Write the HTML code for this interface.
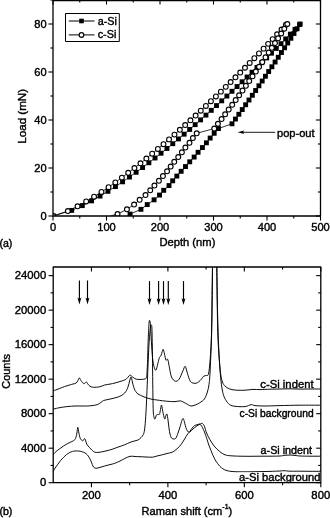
<!DOCTYPE html>
<html><head><meta charset="utf-8"><title>Figure</title>
<style>html,body{margin:0;padding:0;background:#fff;width:330px;height:518px;overflow:hidden}svg{display:block}svg text{fill:#000;stroke:#000;stroke-width:.4px}</style>
</head><body>
<svg width="330" height="518" viewBox="0 0 330 518" font-family='"Liberation Sans", sans-serif' stroke-linejoin="round"><defs><clipPath id="clipA"><rect x="53" y="0" width="267.5" height="216"/></clipPath><clipPath id="clipB"><rect x="53.2" y="267" width="267.6" height="215.7"/></clipPath></defs><rect width="330" height="518" fill="#fff"/><g clip-path="url(#clipA)">
<polyline fill="none" stroke="#000" stroke-width="0.8" points="53,216 67.85,211.03 77.59,206.26 86.17,201.48 94.07,196.7 101.48,191.93 108.54,187.15 115.32,182.38 121.87,177.6 128.22,172.82 134.41,168.05 140.45,163.27 146.37,158.5 152.17,153.72 157.88,148.94 163.49,144.17 169.02,139.39 174.47,134.62 179.85,129.84 185.17,125.06 190.42,120.29 195.62,115.51 200.77,110.74 205.86,105.96 210.9,101.18 215.9,96.41 220.85,91.63 225.76,86.86 230.62,82.08 235.45,77.3 240.23,72.53 244.97,67.75 249.68,62.98 254.34,58.2 258.97,53.42 263.56,48.65 268.11,43.87 272.63,39.1 277.1,34.32 281.54,29.54 285.94,24.77"/>
<polyline fill="none" stroke="#000" stroke-width="0.8" points="53,216 71.73,210.4 82.3,205.63 91.56,200.87 100.03,196.1 107.93,191.34 115.42,186.58 122.58,181.81 129.46,177.05 136.11,172.28 142.58,167.52 148.87,162.76 155.03,157.99 161.05,153.23 166.96,148.46 172.77,143.7 178.48,138.94 184.12,134.17 189.67,129.41 195.16,124.64 200.58,119.88 205.95,115.12 211.25,110.35 216.51,105.59 221.72,100.82 226.88,96.06 231.99,91.3 237.06,86.53 242.1,81.77 247.09,77 252.04,72.24 256.96,67.48 261.84,62.71 266.68,57.95 271.49,53.18 276.26,48.42 281,43.66 285.7,38.89 290.37,34.13 295,29.36 299.6,24.6"/>
<polyline fill="none" stroke="#000" stroke-width="0.8" points="287.33,24 284.27,28.75 281.2,33.5 278.1,38.26 274.99,43.01 271.85,47.76 268.69,52.51 265.51,57.26 262.3,62.02 259.07,66.77 255.82,71.52 252.53,76.27 249.22,81.02 245.88,85.78 242.51,90.53 239.11,95.28 235.68,100.03 232.21,104.78 228.7,109.54 225.15,114.29 221.57,119.04 217.93,123.79 214.26,128.54 196.72,133.3 192.89,138.05 189.47,142.8 185.39,147.55 181.87,152.3 178.25,157.06 174.27,161.81 170.68,166.56 167.07,171.31 162.95,176.06 158.9,180.82 154.43,185.57 150.25,190.32 145.51,195.07 139.63,199.82 134.09,204.58 126.94,209.33 117.54,214.08 111,215.8"/>
<polyline fill="none" stroke="#000" stroke-width="0.8" points="300.17,24 297.08,28.75 293.98,33.5 290.87,38.26 287.74,43.01 284.6,47.76 281.44,52.51 278.27,57.26 275.09,62.02 271.89,66.77 268.67,71.52 265.44,76.27 262.19,81.02 258.92,85.78 255.63,90.53 252.32,95.28 248.99,100.03 245.64,104.78 242.26,109.54 238.86,114.29 235.44,119.04 231.99,123.79 218.46,128.54 214.18,133.3 210.16,138.05 206.4,142.8 202.42,147.55 198.09,152.3 194.15,157.06 189.73,161.81 185.48,166.56 181.15,171.31 176.83,176.06 172.67,180.82 169.02,185.57 163.72,190.32 159.52,195.07 154.07,199.82 147.24,204.58 140.94,209.33 130.05,214.08"/>
<g fill="#000">
<rect x="50.86" y="213.55" width="4.9" height="4.9"/>
<rect x="69.28" y="207.95" width="4.9" height="4.9"/>
<rect x="79.85" y="203.18" width="4.9" height="4.9"/>
<rect x="89.11" y="198.42" width="4.9" height="4.9"/>
<rect x="97.58" y="193.65" width="4.9" height="4.9"/>
<rect x="105.48" y="188.89" width="4.9" height="4.9"/>
<rect x="112.97" y="184.13" width="4.9" height="4.9"/>
<rect x="120.13" y="179.36" width="4.9" height="4.9"/>
<rect x="127.01" y="174.6" width="4.9" height="4.9"/>
<rect x="133.66" y="169.83" width="4.9" height="4.9"/>
<rect x="140.13" y="165.07" width="4.9" height="4.9"/>
<rect x="146.42" y="160.31" width="4.9" height="4.9"/>
<rect x="152.58" y="155.54" width="4.9" height="4.9"/>
<rect x="158.6" y="150.78" width="4.9" height="4.9"/>
<rect x="164.51" y="146.01" width="4.9" height="4.9"/>
<rect x="170.32" y="141.25" width="4.9" height="4.9"/>
<rect x="176.03" y="136.49" width="4.9" height="4.9"/>
<rect x="181.67" y="131.72" width="4.9" height="4.9"/>
<rect x="187.22" y="126.96" width="4.9" height="4.9"/>
<rect x="192.71" y="122.19" width="4.9" height="4.9"/>
<rect x="198.13" y="117.43" width="4.9" height="4.9"/>
<rect x="203.5" y="112.67" width="4.9" height="4.9"/>
<rect x="208.8" y="107.9" width="4.9" height="4.9"/>
<rect x="214.06" y="103.14" width="4.9" height="4.9"/>
<rect x="219.27" y="98.37" width="4.9" height="4.9"/>
<rect x="224.43" y="93.61" width="4.9" height="4.9"/>
<rect x="229.54" y="88.85" width="4.9" height="4.9"/>
<rect x="234.61" y="84.08" width="4.9" height="4.9"/>
<rect x="239.65" y="79.32" width="4.9" height="4.9"/>
<rect x="244.64" y="74.55" width="4.9" height="4.9"/>
<rect x="249.59" y="69.79" width="4.9" height="4.9"/>
<rect x="254.51" y="65.03" width="4.9" height="4.9"/>
<rect x="259.39" y="60.26" width="4.9" height="4.9"/>
<rect x="264.23" y="55.5" width="4.9" height="4.9"/>
<rect x="269.04" y="50.73" width="4.9" height="4.9"/>
<rect x="273.81" y="45.97" width="4.9" height="4.9"/>
<rect x="278.55" y="41.21" width="4.9" height="4.9"/>
<rect x="283.25" y="36.44" width="4.9" height="4.9"/>
<rect x="287.92" y="31.68" width="4.9" height="4.9"/>
<rect x="292.55" y="26.91" width="4.9" height="4.9"/>
<rect x="297.15" y="22.15" width="4.9" height="4.9"/>
<rect x="297.72" y="21.55" width="4.9" height="4.9"/>
<rect x="294.63" y="26.3" width="4.9" height="4.9"/>
<rect x="291.53" y="31.05" width="4.9" height="4.9"/>
<rect x="288.42" y="35.81" width="4.9" height="4.9"/>
<rect x="285.29" y="40.56" width="4.9" height="4.9"/>
<rect x="282.15" y="45.31" width="4.9" height="4.9"/>
<rect x="278.99" y="50.06" width="4.9" height="4.9"/>
<rect x="275.82" y="54.81" width="4.9" height="4.9"/>
<rect x="272.64" y="59.57" width="4.9" height="4.9"/>
<rect x="269.44" y="64.32" width="4.9" height="4.9"/>
<rect x="266.22" y="69.07" width="4.9" height="4.9"/>
<rect x="262.99" y="73.82" width="4.9" height="4.9"/>
<rect x="259.74" y="78.57" width="4.9" height="4.9"/>
<rect x="256.47" y="83.33" width="4.9" height="4.9"/>
<rect x="253.18" y="88.08" width="4.9" height="4.9"/>
<rect x="249.87" y="92.83" width="4.9" height="4.9"/>
<rect x="246.54" y="97.58" width="4.9" height="4.9"/>
<rect x="243.19" y="102.33" width="4.9" height="4.9"/>
<rect x="239.81" y="107.09" width="4.9" height="4.9"/>
<rect x="236.41" y="111.84" width="4.9" height="4.9"/>
<rect x="232.99" y="116.59" width="4.9" height="4.9"/>
<rect x="229.54" y="121.34" width="4.9" height="4.9"/>
<rect x="216.01" y="126.09" width="4.9" height="4.9"/>
<rect x="211.73" y="130.85" width="4.9" height="4.9"/>
<rect x="207.71" y="135.6" width="4.9" height="4.9"/>
<rect x="203.95" y="140.35" width="4.9" height="4.9"/>
<rect x="199.97" y="145.1" width="4.9" height="4.9"/>
<rect x="195.64" y="149.85" width="4.9" height="4.9"/>
<rect x="191.7" y="154.61" width="4.9" height="4.9"/>
<rect x="187.28" y="159.36" width="4.9" height="4.9"/>
<rect x="183.03" y="164.11" width="4.9" height="4.9"/>
<rect x="178.7" y="168.86" width="4.9" height="4.9"/>
<rect x="174.38" y="173.61" width="4.9" height="4.9"/>
<rect x="170.22" y="178.37" width="4.9" height="4.9"/>
<rect x="166.57" y="183.12" width="4.9" height="4.9"/>
<rect x="161.27" y="187.87" width="4.9" height="4.9"/>
<rect x="157.07" y="192.62" width="4.9" height="4.9"/>
<rect x="151.62" y="197.37" width="4.9" height="4.9"/>
<rect x="144.79" y="202.13" width="4.9" height="4.9"/>
<rect x="138.49" y="206.88" width="4.9" height="4.9"/>
<rect x="127.6" y="211.63" width="4.9" height="4.9"/>
</g>
<circle cx="53.22" cy="216" r="2.42" fill="#fff" stroke="#000" stroke-width="1.1"/>
<circle cx="67.85" cy="211.03" r="2.42" fill="#fff" stroke="#000" stroke-width="1.1"/>
<circle cx="77.59" cy="206.26" r="2.42" fill="#fff" stroke="#000" stroke-width="1.1"/>
<circle cx="86.17" cy="201.48" r="2.42" fill="#fff" stroke="#000" stroke-width="1.1"/>
<circle cx="94.07" cy="196.7" r="2.42" fill="#fff" stroke="#000" stroke-width="1.1"/>
<circle cx="101.48" cy="191.93" r="2.42" fill="#fff" stroke="#000" stroke-width="1.1"/>
<circle cx="108.54" cy="187.15" r="2.42" fill="#fff" stroke="#000" stroke-width="1.1"/>
<circle cx="115.32" cy="182.38" r="2.42" fill="#fff" stroke="#000" stroke-width="1.1"/>
<circle cx="121.87" cy="177.6" r="2.42" fill="#fff" stroke="#000" stroke-width="1.1"/>
<circle cx="128.22" cy="172.82" r="2.42" fill="#fff" stroke="#000" stroke-width="1.1"/>
<circle cx="134.41" cy="168.05" r="2.42" fill="#fff" stroke="#000" stroke-width="1.1"/>
<circle cx="140.45" cy="163.27" r="2.42" fill="#fff" stroke="#000" stroke-width="1.1"/>
<circle cx="146.37" cy="158.5" r="2.42" fill="#fff" stroke="#000" stroke-width="1.1"/>
<circle cx="152.17" cy="153.72" r="2.42" fill="#fff" stroke="#000" stroke-width="1.1"/>
<circle cx="157.88" cy="148.94" r="2.42" fill="#fff" stroke="#000" stroke-width="1.1"/>
<circle cx="163.49" cy="144.17" r="2.42" fill="#fff" stroke="#000" stroke-width="1.1"/>
<circle cx="169.02" cy="139.39" r="2.42" fill="#fff" stroke="#000" stroke-width="1.1"/>
<circle cx="174.47" cy="134.62" r="2.42" fill="#fff" stroke="#000" stroke-width="1.1"/>
<circle cx="179.85" cy="129.84" r="2.42" fill="#fff" stroke="#000" stroke-width="1.1"/>
<circle cx="185.17" cy="125.06" r="2.42" fill="#fff" stroke="#000" stroke-width="1.1"/>
<circle cx="190.42" cy="120.29" r="2.42" fill="#fff" stroke="#000" stroke-width="1.1"/>
<circle cx="195.62" cy="115.51" r="2.42" fill="#fff" stroke="#000" stroke-width="1.1"/>
<circle cx="200.77" cy="110.74" r="2.42" fill="#fff" stroke="#000" stroke-width="1.1"/>
<circle cx="205.86" cy="105.96" r="2.42" fill="#fff" stroke="#000" stroke-width="1.1"/>
<circle cx="210.9" cy="101.18" r="2.42" fill="#fff" stroke="#000" stroke-width="1.1"/>
<circle cx="215.9" cy="96.41" r="2.42" fill="#fff" stroke="#000" stroke-width="1.1"/>
<circle cx="220.85" cy="91.63" r="2.42" fill="#fff" stroke="#000" stroke-width="1.1"/>
<circle cx="225.76" cy="86.86" r="2.42" fill="#fff" stroke="#000" stroke-width="1.1"/>
<circle cx="230.62" cy="82.08" r="2.42" fill="#fff" stroke="#000" stroke-width="1.1"/>
<circle cx="235.45" cy="77.3" r="2.42" fill="#fff" stroke="#000" stroke-width="1.1"/>
<circle cx="240.23" cy="72.53" r="2.42" fill="#fff" stroke="#000" stroke-width="1.1"/>
<circle cx="244.97" cy="67.75" r="2.42" fill="#fff" stroke="#000" stroke-width="1.1"/>
<circle cx="249.68" cy="62.98" r="2.42" fill="#fff" stroke="#000" stroke-width="1.1"/>
<circle cx="254.34" cy="58.2" r="2.42" fill="#fff" stroke="#000" stroke-width="1.1"/>
<circle cx="258.97" cy="53.42" r="2.42" fill="#fff" stroke="#000" stroke-width="1.1"/>
<circle cx="263.56" cy="48.65" r="2.42" fill="#fff" stroke="#000" stroke-width="1.1"/>
<circle cx="268.11" cy="43.87" r="2.42" fill="#fff" stroke="#000" stroke-width="1.1"/>
<circle cx="272.63" cy="39.1" r="2.42" fill="#fff" stroke="#000" stroke-width="1.1"/>
<circle cx="277.1" cy="34.32" r="2.42" fill="#fff" stroke="#000" stroke-width="1.1"/>
<circle cx="281.54" cy="29.54" r="2.42" fill="#fff" stroke="#000" stroke-width="1.1"/>
<circle cx="285.94" cy="24.77" r="2.42" fill="#fff" stroke="#000" stroke-width="1.1"/>
<circle cx="287.33" cy="24" r="2.42" fill="#fff" stroke="#000" stroke-width="1.1"/>
<circle cx="284.27" cy="28.75" r="2.42" fill="#fff" stroke="#000" stroke-width="1.1"/>
<circle cx="281.2" cy="33.5" r="2.42" fill="#fff" stroke="#000" stroke-width="1.1"/>
<circle cx="278.1" cy="38.26" r="2.42" fill="#fff" stroke="#000" stroke-width="1.1"/>
<circle cx="274.99" cy="43.01" r="2.42" fill="#fff" stroke="#000" stroke-width="1.1"/>
<circle cx="271.85" cy="47.76" r="2.42" fill="#fff" stroke="#000" stroke-width="1.1"/>
<circle cx="268.69" cy="52.51" r="2.42" fill="#fff" stroke="#000" stroke-width="1.1"/>
<circle cx="265.51" cy="57.26" r="2.42" fill="#fff" stroke="#000" stroke-width="1.1"/>
<circle cx="262.3" cy="62.02" r="2.42" fill="#fff" stroke="#000" stroke-width="1.1"/>
<circle cx="259.07" cy="66.77" r="2.42" fill="#fff" stroke="#000" stroke-width="1.1"/>
<circle cx="255.82" cy="71.52" r="2.42" fill="#fff" stroke="#000" stroke-width="1.1"/>
<circle cx="252.53" cy="76.27" r="2.42" fill="#fff" stroke="#000" stroke-width="1.1"/>
<circle cx="249.22" cy="81.02" r="2.42" fill="#fff" stroke="#000" stroke-width="1.1"/>
<circle cx="245.88" cy="85.78" r="2.42" fill="#fff" stroke="#000" stroke-width="1.1"/>
<circle cx="242.51" cy="90.53" r="2.42" fill="#fff" stroke="#000" stroke-width="1.1"/>
<circle cx="239.11" cy="95.28" r="2.42" fill="#fff" stroke="#000" stroke-width="1.1"/>
<circle cx="235.68" cy="100.03" r="2.42" fill="#fff" stroke="#000" stroke-width="1.1"/>
<circle cx="232.21" cy="104.78" r="2.42" fill="#fff" stroke="#000" stroke-width="1.1"/>
<circle cx="228.7" cy="109.54" r="2.42" fill="#fff" stroke="#000" stroke-width="1.1"/>
<circle cx="225.15" cy="114.29" r="2.42" fill="#fff" stroke="#000" stroke-width="1.1"/>
<circle cx="221.57" cy="119.04" r="2.42" fill="#fff" stroke="#000" stroke-width="1.1"/>
<circle cx="217.93" cy="123.79" r="2.42" fill="#fff" stroke="#000" stroke-width="1.1"/>
<circle cx="214.26" cy="128.54" r="2.42" fill="#fff" stroke="#000" stroke-width="1.1"/>
<circle cx="196.72" cy="133.3" r="2.42" fill="#fff" stroke="#000" stroke-width="1.1"/>
<circle cx="192.89" cy="138.05" r="2.42" fill="#fff" stroke="#000" stroke-width="1.1"/>
<circle cx="189.47" cy="142.8" r="2.42" fill="#fff" stroke="#000" stroke-width="1.1"/>
<circle cx="185.39" cy="147.55" r="2.42" fill="#fff" stroke="#000" stroke-width="1.1"/>
<circle cx="181.87" cy="152.3" r="2.42" fill="#fff" stroke="#000" stroke-width="1.1"/>
<circle cx="178.25" cy="157.06" r="2.42" fill="#fff" stroke="#000" stroke-width="1.1"/>
<circle cx="174.27" cy="161.81" r="2.42" fill="#fff" stroke="#000" stroke-width="1.1"/>
<circle cx="170.68" cy="166.56" r="2.42" fill="#fff" stroke="#000" stroke-width="1.1"/>
<circle cx="167.07" cy="171.31" r="2.42" fill="#fff" stroke="#000" stroke-width="1.1"/>
<circle cx="162.95" cy="176.06" r="2.42" fill="#fff" stroke="#000" stroke-width="1.1"/>
<circle cx="158.9" cy="180.82" r="2.42" fill="#fff" stroke="#000" stroke-width="1.1"/>
<circle cx="154.43" cy="185.57" r="2.42" fill="#fff" stroke="#000" stroke-width="1.1"/>
<circle cx="150.25" cy="190.32" r="2.42" fill="#fff" stroke="#000" stroke-width="1.1"/>
<circle cx="145.51" cy="195.07" r="2.42" fill="#fff" stroke="#000" stroke-width="1.1"/>
<circle cx="139.63" cy="199.82" r="2.42" fill="#fff" stroke="#000" stroke-width="1.1"/>
<circle cx="134.09" cy="204.58" r="2.42" fill="#fff" stroke="#000" stroke-width="1.1"/>
<circle cx="126.94" cy="209.33" r="2.42" fill="#fff" stroke="#000" stroke-width="1.1"/>
<circle cx="117.54" cy="214.08" r="2.42" fill="#fff" stroke="#000" stroke-width="1.1"/>
</g>
<rect x="53" y="0.6" width="267.5" height="215.4" fill="none" stroke="#000" stroke-width="1.3"/>
<line x1="53" y1="216" x2="53" y2="220.6" stroke="#000" stroke-width="1.1"/>
<line x1="53" y1="0" x2="53" y2="4.6" stroke="#000" stroke-width="1.1"/>
<text x="53" y="231.3" font-size="11.1" text-anchor="middle">0</text>
<line x1="79.75" y1="216" x2="79.75" y2="218.6" stroke="#000" stroke-width="1.1"/>
<line x1="79.75" y1="0" x2="79.75" y2="2.6" stroke="#000" stroke-width="1.1"/>
<line x1="106.5" y1="216" x2="106.5" y2="220.6" stroke="#000" stroke-width="1.1"/>
<line x1="106.5" y1="0" x2="106.5" y2="4.6" stroke="#000" stroke-width="1.1"/>
<text x="106.5" y="231.3" font-size="11.1" text-anchor="middle">100</text>
<line x1="133.25" y1="216" x2="133.25" y2="218.6" stroke="#000" stroke-width="1.1"/>
<line x1="133.25" y1="0" x2="133.25" y2="2.6" stroke="#000" stroke-width="1.1"/>
<line x1="160" y1="216" x2="160" y2="220.6" stroke="#000" stroke-width="1.1"/>
<line x1="160" y1="0" x2="160" y2="4.6" stroke="#000" stroke-width="1.1"/>
<text x="160" y="231.3" font-size="11.1" text-anchor="middle">200</text>
<line x1="186.75" y1="216" x2="186.75" y2="218.6" stroke="#000" stroke-width="1.1"/>
<line x1="186.75" y1="0" x2="186.75" y2="2.6" stroke="#000" stroke-width="1.1"/>
<line x1="213.5" y1="216" x2="213.5" y2="220.6" stroke="#000" stroke-width="1.1"/>
<line x1="213.5" y1="0" x2="213.5" y2="4.6" stroke="#000" stroke-width="1.1"/>
<text x="213.5" y="231.3" font-size="11.1" text-anchor="middle">300</text>
<line x1="240.25" y1="216" x2="240.25" y2="218.6" stroke="#000" stroke-width="1.1"/>
<line x1="240.25" y1="0" x2="240.25" y2="2.6" stroke="#000" stroke-width="1.1"/>
<line x1="267" y1="216" x2="267" y2="220.6" stroke="#000" stroke-width="1.1"/>
<line x1="267" y1="0" x2="267" y2="4.6" stroke="#000" stroke-width="1.1"/>
<text x="267" y="231.3" font-size="11.1" text-anchor="middle">400</text>
<line x1="293.75" y1="216" x2="293.75" y2="218.6" stroke="#000" stroke-width="1.1"/>
<line x1="293.75" y1="0" x2="293.75" y2="2.6" stroke="#000" stroke-width="1.1"/>
<line x1="320.5" y1="216" x2="320.5" y2="220.6" stroke="#000" stroke-width="1.1"/>
<line x1="320.5" y1="0" x2="320.5" y2="4.6" stroke="#000" stroke-width="1.1"/>
<text x="320.5" y="231.3" font-size="11.1" text-anchor="middle">500</text>
<line x1="48.4" y1="216" x2="53" y2="216" stroke="#000" stroke-width="1.1"/>
<line x1="315.9" y1="216" x2="320.5" y2="216" stroke="#000" stroke-width="1.1"/>
<text x="46.6" y="219.8" font-size="11.1" text-anchor="end">0</text>
<line x1="50.4" y1="192" x2="53" y2="192" stroke="#000" stroke-width="1.1"/>
<line x1="317.9" y1="192" x2="320.5" y2="192" stroke="#000" stroke-width="1.1"/>
<line x1="48.4" y1="168" x2="53" y2="168" stroke="#000" stroke-width="1.1"/>
<line x1="315.9" y1="168" x2="320.5" y2="168" stroke="#000" stroke-width="1.1"/>
<text x="46.6" y="171.8" font-size="11.1" text-anchor="end">20</text>
<line x1="50.4" y1="144" x2="53" y2="144" stroke="#000" stroke-width="1.1"/>
<line x1="317.9" y1="144" x2="320.5" y2="144" stroke="#000" stroke-width="1.1"/>
<line x1="48.4" y1="120" x2="53" y2="120" stroke="#000" stroke-width="1.1"/>
<line x1="315.9" y1="120" x2="320.5" y2="120" stroke="#000" stroke-width="1.1"/>
<text x="46.6" y="123.8" font-size="11.1" text-anchor="end">40</text>
<line x1="50.4" y1="96" x2="53" y2="96" stroke="#000" stroke-width="1.1"/>
<line x1="317.9" y1="96" x2="320.5" y2="96" stroke="#000" stroke-width="1.1"/>
<line x1="48.4" y1="72" x2="53" y2="72" stroke="#000" stroke-width="1.1"/>
<line x1="315.9" y1="72" x2="320.5" y2="72" stroke="#000" stroke-width="1.1"/>
<text x="46.6" y="75.8" font-size="11.1" text-anchor="end">60</text>
<line x1="50.4" y1="48" x2="53" y2="48" stroke="#000" stroke-width="1.1"/>
<line x1="317.9" y1="48" x2="320.5" y2="48" stroke="#000" stroke-width="1.1"/>
<line x1="48.4" y1="24" x2="53" y2="24" stroke="#000" stroke-width="1.1"/>
<line x1="315.9" y1="24" x2="320.5" y2="24" stroke="#000" stroke-width="1.1"/>
<text x="46.6" y="27.8" font-size="11.1" text-anchor="end">80</text>
<line x1="50.4" y1="0" x2="53" y2="0" stroke="#000" stroke-width="1.1"/>
<line x1="317.9" y1="0" x2="320.5" y2="0" stroke="#000" stroke-width="1.1"/>
<text x="187.4" y="246.3" font-size="11.2" text-anchor="middle">Depth (nm)</text>
<text transform="translate(26.0,116.3) rotate(-90)" font-size="11.6" text-anchor="middle">Load (mN)</text>
<text x="-0.6" y="247.2" font-size="10.6" text-anchor="start">(a)</text>
<rect x="65.5" y="13.5" width="53.8" height="28" fill="#fff" stroke="#000" stroke-width="1.0"/>
<line x1="68.8" y1="21" x2="94.5" y2="21" stroke="#000" stroke-width="1"/>
<line x1="68.8" y1="34.9" x2="94.5" y2="34.9" stroke="#000" stroke-width="1"/>
<rect x="79.2" y="18.7" width="4.6" height="4.6" fill="#000"/>
<circle cx="81.5" cy="35" r="2.35" fill="#fff" stroke="#000" stroke-width="1.1"/>
<text x="97.7" y="25.2" font-size="10.8" text-anchor="start">a-Si</text>
<text x="97.7" y="38.2" font-size="10.8" text-anchor="start">c-Si</text>
<line x1="275.2" y1="132.3" x2="242.5" y2="132.3" stroke="#000" stroke-width="0.9"/>
<path d="M237.6,132.3 L244.2,130.6 L243.0,132.3 L244.2,134.0 Z" fill="#000"/>
<text x="277" y="136.9" font-size="11.1" text-anchor="start">pop-out</text>
<g clip-path="url(#clipB)" fill="none" stroke="#000" stroke-width="0.95" stroke-linejoin="round">
<path d="M53,391 C53.67,390.75 55.43,390.1 57,389.5 C58.57,388.9 60.9,387.97 62.4,387.4 C63.9,386.83 64.75,386.52 66,386.1 C67.25,385.68 68.73,385.25 69.9,384.9 C71.07,384.55 71.97,384.3 73,384 C74.03,383.7 75.28,383.68 76.1,383.1 C76.92,382.52 77.37,381.37 77.9,380.5 C78.43,379.63 78.82,377.93 79.3,377.9 C79.78,377.87 80.3,379.55 80.8,380.3 C81.3,381.05 81.72,381.85 82.3,382.4 C82.88,382.95 83.63,383.68 84.3,383.6 C84.97,383.52 85.68,381.8 86.3,381.9 C86.92,382 87.42,383.5 88,384.2 C88.58,384.9 88.88,385.58 89.8,386.1 C90.72,386.62 91.85,387.18 93.5,387.3 C95.15,387.42 97.83,387.18 99.7,386.8 C101.57,386.42 102.98,385.45 104.7,385 C106.42,384.55 108.28,384.43 110,384.1 C111.72,383.77 113.17,383.48 115,383 C116.83,382.52 119.18,381.8 121,381.2 C122.82,380.6 124.58,380.27 125.9,379.4 C127.22,378.53 128.13,376.7 128.9,376 C129.67,375.3 129.88,375.03 130.5,375.2 C131.12,375.37 131.65,376.33 132.6,377 C133.55,377.67 134.68,378.8 136.2,379.2 C137.72,379.6 140.18,379.47 141.7,379.4 C143.22,379.33 144.48,379.28 145.3,378.8 C146.12,378.32 146.25,378.8 146.6,376.5 C146.95,374.2 147.13,371.08 147.4,365 C147.67,358.92 147.93,346.92 148.2,340 C148.47,333.08 148.77,326.77 149,323.5 C149.23,320.23 149.38,320.4 149.6,320.4 C149.82,320.4 150.07,321.07 150.3,323.5 C150.53,325.93 150.75,330.92 151,335 C151.25,339.08 151.5,343.83 151.8,348 C152.1,352.17 152.43,356.92 152.8,360 C153.17,363.08 153.48,364.8 154,366.5 C154.52,368.2 155.25,370.73 155.9,370.2 C156.55,369.67 157.32,365.4 157.9,363.3 C158.48,361.2 158.9,358.85 159.4,357.6 C159.9,356.35 160.43,356.82 160.9,355.8 C161.37,354.78 161.82,352.57 162.2,351.5 C162.58,350.43 162.82,348.98 163.2,349.4 C163.58,349.82 164.03,352.2 164.5,354 C164.97,355.8 165.47,359.32 166,360.2 C166.53,361.08 167.17,358.27 167.7,359.3 C168.23,360.33 168.57,363.45 169.2,366.4 C169.83,369.35 170.48,374.53 171.5,377 C172.52,379.47 174.03,380.83 175.3,381.2 C176.57,381.57 177.83,380.92 179.1,379.2 C180.37,377.48 181.88,373.03 182.9,370.9 C183.92,368.77 184.45,366.02 185.2,366.4 C185.95,366.78 186.52,370.68 187.4,373.2 C188.28,375.72 189.23,379.82 190.5,381.5 C191.77,383.18 193.67,383.22 195,383.3 C196.33,383.38 197.42,382.72 198.5,382 C199.58,381.28 200.63,379.97 201.5,379 C202.37,378.03 202.9,376.78 203.7,376.2 C204.5,375.62 205.53,375.78 206.3,375.5 C207.07,375.22 207.75,376.08 208.3,374.5 C208.85,372.92 209.18,370.08 209.6,366 C210.02,361.92 210.47,356 210.8,350 C211.13,344 211.38,338.33 211.6,330 C211.82,321.67 211.95,310.67 212.1,300 C212.25,289.33 212.43,271.67 212.5,266"/>
<path d="M216.8,266 C216.87,271.67 217.05,289.33 217.2,300 C217.35,310.67 217.48,322 217.7,330 C217.92,338 218.08,341.33 218.5,348 C218.92,354.67 219.63,364.62 220.2,370 C220.77,375.38 221.18,377.7 221.9,380.3 C222.62,382.9 223.2,384.15 224.5,385.6 C225.8,387.05 227.67,388.23 229.7,389 C231.73,389.77 234.15,390 236.7,390.2 C239.25,390.4 242.28,390.33 245,390.2 C247.72,390.07 250.5,389.5 253,389.4 C255.5,389.3 257.17,389.63 260,389.6 C262.83,389.57 266.67,389.3 270,389.2 C273.33,389.1 276.67,389.07 280,389 C283.33,388.93 286.67,388.78 290,388.8 C293.33,388.82 296.67,389.07 300,389.1 C303.33,389.13 306.53,389.02 310,389 C313.47,388.98 319,389 320.8,389"/>
<path d="M53,409.2 C53.75,409.02 55.93,408.43 57.5,408.1 C59.07,407.77 60.65,407.47 62.4,407.2 C64.15,406.93 65.92,406.7 68,406.5 C70.08,406.3 72.73,406.08 74.9,406 C77.07,405.92 78.93,406 81,406 C83.07,406 85.47,406.07 87.3,406 C89.13,405.93 90.35,405.82 92,405.6 C93.65,405.38 95.7,405.23 97.2,404.7 C98.7,404.17 99.97,403.08 101,402.4 C102.03,401.72 102.23,401.08 103.4,400.6 C104.57,400.12 106.57,399.83 108,399.5 C109.43,399.17 110.67,398.92 112,398.6 C113.33,398.28 114.5,398.07 116,397.6 C117.5,397.13 119.57,396.57 121,395.8 C122.43,395.03 123.67,393.92 124.6,393 C125.53,392.08 125.98,391.47 126.6,390.3 C127.22,389.13 127.8,387.55 128.3,386 C128.8,384.45 129.23,382.4 129.6,381 C129.97,379.6 130.25,378.27 130.5,377.6 C130.75,376.93 130.9,376.83 131.1,377 C131.3,377.17 131.45,377.6 131.7,378.6 C131.95,379.6 132.15,381.27 132.6,383 C133.05,384.73 133.83,387.53 134.4,389 C134.97,390.47 135.4,390.97 136,391.8 C136.6,392.63 136.85,393.23 138,394 C139.15,394.77 141.28,395.7 142.9,396.4 C144.52,397.1 146.17,397.72 147.7,398.2 C149.23,398.68 150.55,399 152.1,399.3 C153.65,399.6 155.23,399.75 157,400 C158.77,400.25 160.48,400.55 162.7,400.8 C164.92,401.05 168.25,401.37 170.3,401.5 C172.35,401.63 173.35,401.7 175,401.6 C176.65,401.5 178.83,400.83 180.2,400.9 C181.57,400.97 181.95,401.4 183.2,402 C184.45,402.6 186.43,403.83 187.7,404.5 C188.97,405.17 189.53,405.92 190.8,406 C192.07,406.08 193.8,405.55 195.3,405 C196.8,404.45 198.28,403.7 199.8,402.7 C201.32,401.7 203.13,400.78 204.4,399 C205.67,397.22 206.63,394.42 207.4,392 C208.17,389.58 208.58,387.33 209,384.5 C209.42,381.67 209.6,379.75 209.9,375 C210.2,370.25 210.52,362.67 210.8,356 C211.08,349.33 211.38,344.33 211.6,335 C211.82,325.67 211.95,311.5 212.1,300 C212.25,288.5 212.43,271.67 212.5,266"/>
<path d="M216.8,266 C216.88,271.67 217.12,290.17 217.3,300 C217.48,309.83 217.65,316.67 217.9,325 C218.15,333.33 218.48,343 218.8,350 C219.12,357 219.43,361.83 219.8,367 C220.17,372.17 220.5,376.75 221,381 C221.5,385.25 222.07,389.43 222.8,392.5 C223.53,395.57 224.25,397.37 225.4,399.4 C226.55,401.43 228.1,403.55 229.7,404.7 C231.3,405.85 232.45,405.98 235,406.3 C237.55,406.62 242.3,406.88 245,406.6 C247.7,406.32 249.53,404.77 251.2,404.6 C252.87,404.43 252.7,405.37 255,405.6 C257.3,405.83 260.83,406 265,406 C269.17,406 274.17,405.73 280,405.6 C285.83,405.47 293.2,405.27 300,405.2 C306.8,405.13 317.33,405.2 320.8,405.2"/>
<path d="M53,454.8 C53.5,454.27 54.85,452.63 56,451.6 C57.15,450.57 58.65,449.53 59.9,448.6 C61.15,447.67 62.25,446.82 63.5,446 C64.75,445.18 66.23,444.33 67.4,443.7 C68.57,443.07 69.47,442.72 70.5,442.2 C71.53,441.68 72.75,441.23 73.6,440.6 C74.45,439.97 75.05,439.67 75.6,438.4 C76.15,437.13 76.53,434.83 76.9,433 C77.27,431.17 77.47,427.4 77.8,427.4 C78.13,427.4 78.48,431.17 78.9,433 C79.32,434.83 79.65,437.1 80.3,438.4 C80.95,439.7 82.05,440.77 82.8,440.8 C83.55,440.83 84.13,438.03 84.8,438.6 C85.47,439.17 86.05,442.75 86.8,444.2 C87.55,445.65 88.4,446.27 89.3,447.3 C90.2,448.33 91.3,449.58 92.2,450.4 C93.1,451.22 93.73,451.87 94.7,452.2 C95.67,452.53 96.75,452.47 98,452.4 C99.25,452.33 100.7,452.08 102.2,451.8 C103.7,451.52 105.35,451.12 107,450.7 C108.65,450.28 110.27,449.9 112.1,449.3 C113.93,448.7 115.92,447.85 118,447.1 C120.08,446.35 122.6,445.58 124.6,444.8 C126.6,444.02 128.43,443.02 130,442.4 C131.57,441.78 132.67,441.5 134,441.1 C135.33,440.7 136.83,440.58 138,440 C139.17,439.42 140.12,438.5 141,437.6 C141.88,436.7 142.72,435.87 143.3,434.6 C143.88,433.33 144.13,432.43 144.5,430 C144.87,427.57 145.17,424.67 145.5,420 C145.83,415.33 146.17,409 146.5,402 C146.83,395 147.15,386.33 147.5,378 C147.85,369.67 148.22,359.5 148.6,352 C148.98,344.5 149.47,337.3 149.8,333 C150.13,328.7 150.35,327.53 150.6,326.2 C150.85,324.87 151.08,324.7 151.3,325 C151.52,325.3 151.73,324.67 151.9,328 C152.07,331.33 152.18,338 152.3,345 C152.42,352 152.5,361.67 152.6,370 C152.7,378.33 152.78,388 152.9,395 C153.02,402 153.1,408.25 153.3,412 C153.5,415.75 153.82,416.33 154.1,417.5 C154.38,418.67 154.6,419.42 155,419 C155.4,418.58 156,415.75 156.5,415 C157,414.25 157.5,414.63 158,414.5 C158.5,414.37 159.08,415.03 159.5,414.2 C159.92,413.37 160.17,411.03 160.5,409.5 C160.83,407.97 161.17,404.92 161.5,405 C161.83,405.08 162.08,408 162.5,410 C162.92,412 163.58,415.5 164,417 C164.42,418.5 164.67,419.28 165,419 C165.33,418.72 165.67,416.1 166,415.3 C166.33,414.5 166.67,413.42 167,414.2 C167.33,414.98 167.67,417.7 168,420 C168.33,422.3 168.67,425.67 169,428 C169.33,430.33 169.58,432.33 170,434 C170.42,435.67 170.83,437.17 171.5,438 C172.17,438.83 173.25,439 174,439 C174.75,439 175.33,439 176,438 C176.67,437 177.33,434.83 178,433 C178.67,431.17 179.33,429.13 180,427 C180.67,424.87 181.47,421.62 182,420.2 C182.53,418.78 182.82,418.28 183.2,418.5 C183.58,418.72 183.95,420.33 184.3,421.5 C184.65,422.67 184.92,424.17 185.3,425.5 C185.68,426.83 186.07,428.42 186.6,429.5 C187.13,430.58 187.93,431.62 188.5,432 C189.07,432.38 189.25,432.3 190,431.8 C190.75,431.3 192,429.88 193,429 C194,428.12 195,427.23 196,426.5 C197,425.77 198.07,425.12 199,424.6 C199.93,424.08 200.9,423.47 201.6,423.4 C202.3,423.33 202.7,423.63 203.2,424.2 C203.7,424.77 204.03,425.33 204.6,426.8 C205.17,428.27 205.72,430.87 206.6,433 C207.48,435.13 208.63,437.42 209.9,439.6 C211.17,441.78 212.58,444.12 214.2,446.1 C215.82,448.08 217.8,450.05 219.6,451.5 C221.4,452.95 223.1,454.08 225,454.8 C226.9,455.52 228.5,455.57 231,455.8 C233.5,456.03 236.83,456.12 240,456.2 C243.17,456.28 246.67,456.3 250,456.3 C253.33,456.3 256.67,456.22 260,456.2 C263.33,456.18 266.67,456.23 270,456.2 C273.33,456.17 277.5,456.15 280,456 C282.5,455.85 283.33,455.47 285,455.3 C286.67,455.13 288.33,454.98 290,455 C291.67,455.02 293.33,455.23 295,455.4 C296.67,455.57 297.5,455.87 300,456 C302.5,456.13 306.53,456.17 310,456.2 C313.47,456.23 319,456.2 320.8,456.2"/>
<path d="M53,471.7 C53.33,471.12 54.25,469.37 55,468.2 C55.75,467.03 56.58,465.97 57.5,464.7 C58.42,463.43 59.47,461.85 60.5,460.6 C61.53,459.35 62.7,458.2 63.7,457.2 C64.7,456.2 65.47,455.4 66.5,454.6 C67.53,453.8 68.9,452.93 69.9,452.4 C70.9,451.87 71.67,451.63 72.5,451.4 C73.33,451.17 73.9,451.07 74.9,451 C75.9,450.93 77.27,450.87 78.5,451 C79.73,451.13 81.22,451.47 82.3,451.8 C83.38,452.13 84.17,452.5 85,453 C85.83,453.5 86.6,454.05 87.3,454.8 C88,455.55 88.58,456.47 89.2,457.5 C89.82,458.53 90.48,459.83 91,461 C91.52,462.17 91.87,463.48 92.3,464.5 C92.73,465.52 92.98,466.47 93.6,467.1 C94.22,467.73 94.93,468.25 96,468.3 C97.07,468.35 98.55,467.78 100,467.4 C101.45,467.02 103.03,466.47 104.7,466 C106.37,465.53 108.35,465.03 110,464.6 C111.65,464.17 112.93,464 114.6,463.4 C116.27,462.8 118.33,461.8 120,461 C121.67,460.2 122.93,459.38 124.6,458.6 C126.27,457.82 128.27,456.65 130,456.3 C131.73,455.95 133.33,456.43 135,456.5 C136.67,456.57 138.17,456.62 140,456.7 C141.83,456.78 143.93,456.92 146,457 C148.07,457.08 150.57,457.37 152.4,457.2 C154.23,457.03 155.35,456.4 157,456 C158.65,455.6 160.63,455.22 162.3,454.8 C163.97,454.38 165.35,453.93 167,453.5 C168.65,453.07 170.7,452.85 172.2,452.2 C173.7,451.55 174.75,450.6 176,449.6 C177.25,448.6 178.7,447.28 179.7,446.2 C180.7,445.12 181.28,444.13 182,443.1 C182.72,442.07 183.33,441.08 184,440 C184.67,438.92 185.33,437.67 186,436.6 C186.67,435.53 187.33,434.47 188,433.6 C188.67,432.73 189.33,432.3 190,431.4 C190.67,430.5 191.25,429.17 192,428.2 C192.75,427.23 193.67,426.17 194.5,425.6 C195.33,425.03 196.15,425.05 197,424.8 C197.85,424.55 198.85,423.93 199.6,424.1 C200.35,424.27 201.02,425.18 201.5,425.8 C201.98,426.42 202.08,426.97 202.5,427.8 C202.92,428.63 203.48,429.55 204,430.8 C204.52,432.05 205.1,433.9 205.6,435.3 C206.1,436.7 206.47,437.58 207,439.2 C207.53,440.82 208.13,443.1 208.8,445 C209.47,446.9 210.28,448.83 211,450.6 C211.72,452.37 212.43,454.12 213.1,455.6 C213.77,457.08 214.27,458.2 215,459.5 C215.73,460.8 216.67,462.25 217.5,463.4 C218.33,464.55 219.1,465.5 220,466.4 C220.9,467.3 221.9,468.15 222.9,468.8 C223.9,469.45 224.65,469.87 226,470.3 C227.35,470.73 228.67,471.15 231,471.4 C233.33,471.65 236.83,471.73 240,471.8 C243.17,471.87 246.67,471.83 250,471.8 C253.33,471.77 256.67,471.67 260,471.6 C263.33,471.53 266.67,471.5 270,471.4 C273.33,471.3 277.67,471.12 280,471 C282.33,470.88 282.33,470.67 284,470.7 C285.67,470.73 287.33,471.12 290,471.2 C292.67,471.28 296.67,471.18 300,471.2 C303.33,471.22 306.53,471.28 310,471.3 C313.47,471.32 319,471.3 320.8,471.3"/>
</g>
<rect x="53.2" y="267" width="267.6" height="215.7" fill="none" stroke="#000" stroke-width="1.3"/>
<line x1="91.43" y1="482.7" x2="91.43" y2="487.3" stroke="#000" stroke-width="1.1"/>
<line x1="91.43" y1="267" x2="91.43" y2="271.6" stroke="#000" stroke-width="1.1"/>
<text x="91.43" y="498.8" font-size="11.3" text-anchor="middle">200</text>
<line x1="129.66" y1="482.7" x2="129.66" y2="485.3" stroke="#000" stroke-width="1.1"/>
<line x1="129.66" y1="267" x2="129.66" y2="269.6" stroke="#000" stroke-width="1.1"/>
<line x1="167.89" y1="482.7" x2="167.89" y2="487.3" stroke="#000" stroke-width="1.1"/>
<line x1="167.89" y1="267" x2="167.89" y2="271.6" stroke="#000" stroke-width="1.1"/>
<text x="167.89" y="498.8" font-size="11.3" text-anchor="middle">400</text>
<line x1="206.11" y1="482.7" x2="206.11" y2="485.3" stroke="#000" stroke-width="1.1"/>
<line x1="206.11" y1="267" x2="206.11" y2="269.6" stroke="#000" stroke-width="1.1"/>
<line x1="244.34" y1="482.7" x2="244.34" y2="487.3" stroke="#000" stroke-width="1.1"/>
<line x1="244.34" y1="267" x2="244.34" y2="271.6" stroke="#000" stroke-width="1.1"/>
<text x="244.34" y="498.8" font-size="11.3" text-anchor="middle">600</text>
<line x1="282.57" y1="482.7" x2="282.57" y2="485.3" stroke="#000" stroke-width="1.1"/>
<line x1="282.57" y1="267" x2="282.57" y2="269.6" stroke="#000" stroke-width="1.1"/>
<line x1="320.8" y1="482.7" x2="320.8" y2="487.3" stroke="#000" stroke-width="1.1"/>
<line x1="320.8" y1="267" x2="320.8" y2="271.6" stroke="#000" stroke-width="1.1"/>
<text x="320.8" y="498.8" font-size="11.3" text-anchor="middle">800</text>
<line x1="48.6" y1="482.7" x2="53.2" y2="482.7" stroke="#000" stroke-width="1.1"/>
<line x1="316.2" y1="482.7" x2="320.8" y2="482.7" stroke="#000" stroke-width="1.1"/>
<text x="46.2" y="486.4" font-size="11.3" text-anchor="end">0</text>
<line x1="50.6" y1="465.44" x2="53.2" y2="465.44" stroke="#000" stroke-width="1.1"/>
<line x1="318.2" y1="465.44" x2="320.8" y2="465.44" stroke="#000" stroke-width="1.1"/>
<line x1="48.6" y1="448.19" x2="53.2" y2="448.19" stroke="#000" stroke-width="1.1"/>
<line x1="316.2" y1="448.19" x2="320.8" y2="448.19" stroke="#000" stroke-width="1.1"/>
<text x="46.2" y="451.89" font-size="11.3" text-anchor="end">4000</text>
<line x1="50.6" y1="430.93" x2="53.2" y2="430.93" stroke="#000" stroke-width="1.1"/>
<line x1="318.2" y1="430.93" x2="320.8" y2="430.93" stroke="#000" stroke-width="1.1"/>
<line x1="48.6" y1="413.68" x2="53.2" y2="413.68" stroke="#000" stroke-width="1.1"/>
<line x1="316.2" y1="413.68" x2="320.8" y2="413.68" stroke="#000" stroke-width="1.1"/>
<text x="46.2" y="417.38" font-size="11.3" text-anchor="end">8000</text>
<line x1="50.6" y1="396.42" x2="53.2" y2="396.42" stroke="#000" stroke-width="1.1"/>
<line x1="318.2" y1="396.42" x2="320.8" y2="396.42" stroke="#000" stroke-width="1.1"/>
<line x1="48.6" y1="379.16" x2="53.2" y2="379.16" stroke="#000" stroke-width="1.1"/>
<line x1="316.2" y1="379.16" x2="320.8" y2="379.16" stroke="#000" stroke-width="1.1"/>
<text x="46.2" y="382.86" font-size="11.3" text-anchor="end">12000</text>
<line x1="50.6" y1="361.91" x2="53.2" y2="361.91" stroke="#000" stroke-width="1.1"/>
<line x1="318.2" y1="361.91" x2="320.8" y2="361.91" stroke="#000" stroke-width="1.1"/>
<line x1="48.6" y1="344.65" x2="53.2" y2="344.65" stroke="#000" stroke-width="1.1"/>
<line x1="316.2" y1="344.65" x2="320.8" y2="344.65" stroke="#000" stroke-width="1.1"/>
<text x="46.2" y="348.35" font-size="11.3" text-anchor="end">16000</text>
<line x1="50.6" y1="327.4" x2="53.2" y2="327.4" stroke="#000" stroke-width="1.1"/>
<line x1="318.2" y1="327.4" x2="320.8" y2="327.4" stroke="#000" stroke-width="1.1"/>
<line x1="48.6" y1="310.14" x2="53.2" y2="310.14" stroke="#000" stroke-width="1.1"/>
<line x1="316.2" y1="310.14" x2="320.8" y2="310.14" stroke="#000" stroke-width="1.1"/>
<text x="46.2" y="313.84" font-size="11.3" text-anchor="end">20000</text>
<line x1="50.6" y1="292.88" x2="53.2" y2="292.88" stroke="#000" stroke-width="1.1"/>
<line x1="318.2" y1="292.88" x2="320.8" y2="292.88" stroke="#000" stroke-width="1.1"/>
<line x1="48.6" y1="275.63" x2="53.2" y2="275.63" stroke="#000" stroke-width="1.1"/>
<line x1="316.2" y1="275.63" x2="320.8" y2="275.63" stroke="#000" stroke-width="1.1"/>
<text x="46.2" y="279.33" font-size="11.3" text-anchor="end">24000</text>
<text transform="translate(9.7,371.4) rotate(-90)" font-size="10.9" text-anchor="middle">Counts</text>
<text x="141.6" y="514.9" font-size="11.1">Raman shift (cm<tspan font-size="7" dy="-5.6">-1</tspan><tspan dy="5.6">)</tspan></text>
<text x="-0.6" y="515.2" font-size="10.6" text-anchor="start">(b)</text>
<line x1="79.4" y1="280.5" x2="79.4" y2="299" stroke="#000" stroke-width="1.15"/>
<path d="M79.4,304.5 L77.45,297.6 L79.4,299 L81.35,297.6 Z" fill="#000"/>
<line x1="87.5" y1="280.5" x2="87.5" y2="299" stroke="#000" stroke-width="1.15"/>
<path d="M87.5,304.5 L85.55,297.6 L87.5,299 L89.45,297.6 Z" fill="#000"/>
<line x1="149.5" y1="281.1" x2="149.5" y2="299.6" stroke="#000" stroke-width="1.15"/>
<path d="M149.5,305.1 L147.55,298.2 L149.5,299.6 L151.45,298.2 Z" fill="#000"/>
<line x1="158.6" y1="281.1" x2="158.6" y2="299.6" stroke="#000" stroke-width="1.15"/>
<path d="M158.6,305.1 L156.65,298.2 L158.6,299.6 L160.55,298.2 Z" fill="#000"/>
<line x1="163.5" y1="281.1" x2="163.5" y2="299.6" stroke="#000" stroke-width="1.15"/>
<path d="M163.5,305.1 L161.55,298.2 L163.5,299.6 L165.45,298.2 Z" fill="#000"/>
<line x1="168.3" y1="281.1" x2="168.3" y2="299.6" stroke="#000" stroke-width="1.15"/>
<path d="M168.3,305.1 L166.35,298.2 L168.3,299.6 L170.25,298.2 Z" fill="#000"/>
<line x1="183.5" y1="281.1" x2="183.5" y2="299.6" stroke="#000" stroke-width="1.15"/>
<path d="M183.5,305.1 L181.55,298.2 L183.5,299.6 L185.45,298.2 Z" fill="#000"/>
<rect x="238.5" y="472.4" width="81.6" height="9.6" fill="#fff"/>
<text x="239" y="481" font-size="10.9" text-anchor="start" textLength="81.5" lengthAdjust="spacingAndGlyphs">a-Si background</text>
<text x="260.3" y="387.6" font-size="11.2" text-anchor="start" textLength="53.3" lengthAdjust="spacingAndGlyphs">c-Si indent</text>
<text x="239.5" y="417" font-size="10.3" text-anchor="start" textLength="74.1" lengthAdjust="spacingAndGlyphs">c-Si background</text>
<text x="260.6" y="453.7" font-size="10.8" text-anchor="start" textLength="51.4" lengthAdjust="spacingAndGlyphs">a-Si indent</text></svg>
</body></html>
